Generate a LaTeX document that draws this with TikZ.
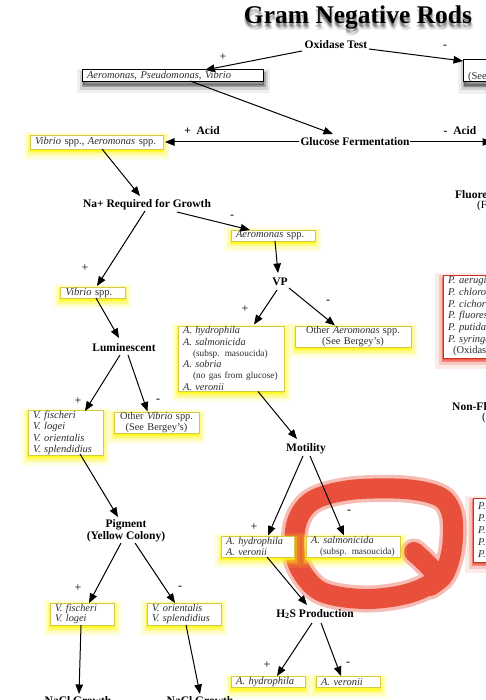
\documentclass[tikz,border=0pt]{standalone}
\usepackage{fontspec}
\setmainfont{Liberation Serif}
\usetikzlibrary{arrows.meta,calc}
\definecolor{yline}{RGB}{212,202,70}
\definecolor{yglow}{RGB}{255,248,20}
\definecolor{rline}{RGB}{200,50,35}
\definecolor{rglow}{RGB}{235,60,40}
\definecolor{ringc}{RGB}{230,62,38}
\definecolor{txt}{RGB}{45,45,45}
\newcommand\labfont{\fontsize{11.5}{12.5}\selectfont\bfseries}
\newcommand\boxfont{\fontsize{10.5}{11.5}\selectfont}
\newcommand\smallpar[1]{{\fontsize{9.3}{11.5}\selectfont #1}}
\tikzset{
  lab/.style={font=\labfont, inner sep=0pt, text=black},
  sgn/.style={font=\fontsize{12}{12}\selectfont, inner sep=0pt},
  titlefont/.style={font=\fontsize{25.5}{28}\selectfont\bfseries, inner sep=0pt},
  arr/.style={line width=1pt, -{Triangle[length=9.5pt,width=7.5pt]}},
  boxbase/.style={fill=white, line width=0.8pt, inner xsep=5pt, inner ysep=0pt, align=left, font=\boxfont, text=txt},
  ybox/.style={boxbase, draw=yline,
    preaction={fill=yglow, draw=yglow, line width=14pt, opacity=0.10, transform canvas={yshift=-4pt}},
    preaction={fill=yglow, draw=yglow, line width=9pt, opacity=0.18, transform canvas={yshift=-3.5pt}},
    preaction={fill=yglow, draw=yglow, line width=5pt, opacity=0.3, transform canvas={yshift=-3pt}},
    preaction={fill=yglow, draw=yglow, line width=2pt, opacity=0.45, transform canvas={yshift=-2pt}}},
  rbox/.style={boxbase, draw=rline,
    preaction={fill=rglow, draw=rglow, line width=13pt, opacity=0.10, transform canvas={xshift=-2pt,yshift=-4pt}},
    preaction={fill=rglow, draw=rglow, line width=7pt, opacity=0.2, transform canvas={xshift=-1pt,yshift=-3pt}},
    preaction={fill=rglow, draw=rglow, line width=3pt, opacity=0.4, transform canvas={yshift=-2pt}}},
  kbox/.style={boxbase, draw=black, line width=1pt,
    preaction={fill=black, draw=black, line width=12pt, opacity=0.06, transform canvas={xshift=1pt,yshift=-6pt}},
    preaction={fill=black, draw=black, line width=7pt, opacity=0.12, transform canvas={xshift=1pt,yshift=-5pt}},
    preaction={fill=black, draw=black, line width=3pt, opacity=0.2, transform canvas={xshift=1pt,yshift=-4pt}}},
}
\begin{document}
\begin{tikzpicture}[x=1pt,y=-1pt]
\useasboundingbox (0,0) rectangle (486,700);
\clip (0,0) rectangle (486,700);
\fill[white] (0,0) rectangle (486,700);

% hand-drawn red ring (annotation)
\draw[ringc, line width=27pt, opacity=0.35, line cap=round, line join=round]
  plot[smooth, tension=0.55] coordinates {(414,552) (436,577) (410,593) (365,599) (320,591) (297,562) (296,525) (312,501) (350,490) (405,489) (440,497) (452,515) (452,548) (444,574) (430,586)};
\draw[ringc, line width=20pt, opacity=0.85, line cap=round, line join=round]
  plot[smooth, tension=0.55] coordinates {(414,552) (436,577) (410,593) (365,599) (320,591) (297,562) (296,525) (312,501) (350,490) (405,489) (440,497) (452,515) (452,548) (444,574) (430,586)};

% title with shadow
\foreach \dx/\dy/\o [count=\i] in {0/3/0.22, 1/5/0.14, -1/4/0.14, 0/7/0.08, 2/6/0.08}
  \node[titlefont, text=black, opacity=\o] (tshadow\i) at (358+\dx,17+\dy) {Gram Negative Rods};
\node[titlefont] (title) at (358,17) {Gram Negative Rods};

% labels
\node[lab] (ox) at (336,45) {Oxidase Test};
\node[lab] (gl) at (355,142) {Glucose Fermentation};
\node[lab] (na) at (147,205) {Na+ Required for Growth};
\node[lab] (vp) at (280,282) {VP};
\node[lab] (lum) at (124,348) {Luminescent};
\node[lab] (mot) at (306,449) {Motility};
\node[lab, align=center, font=\fontsize{11.5}{12}\selectfont\bfseries] (pig) at (126,531) {Pigment\\(Yellow Colony)};
\node[lab] (h2s) at (315,614) {H\textsubscript{2}S Production};
\node[lab, anchor=west] (fl) at (455,195) {Fluorescent};
\node[font=\fontsize{11}{12}\selectfont, inner sep=0pt, anchor=west] (fl2) at (477,206) {(Fluorescein)};
\node[lab, anchor=west] (nf) at (452,407) {Non-Fluorescent};
\node[font=\fontsize{11}{12}\selectfont, inner sep=0pt, anchor=west] (nf2) at (482,418) {(Oxidase +)};
\node[lab] (bl1) at (78,701) {NaCl Growth};
\node[lab] (bl2) at (200,701) {NaCl Growth};

% boxes
\node[kbox, text width=171pt, minimum height=12pt] (b1) at (172.5,75.5) {\textit{Aeromonas, Pseudomonas, Vibrio}};
\node[kbox, text width=64pt, minimum height=22pt] (rbx) at (500,71) {\strut\\(See Bergey's)};
\node[ybox, text width=123pt, minimum height=14pt] (b2) at (96.5,142) {\textit{Vibrio} spp., \textit{Aeromonas} spp.};
\node[ybox, text width=74pt, minimum height=11pt] (b3) at (273,235.5) {\textit{Aeromonas} spp.};
\node[ybox, text width=54pt, minimum height=11pt, inner xsep=5.5pt] (b4) at (92.5,292.5) {\textit{Vibrio} spp.};
\node[ybox, text width=96pt, minimum height=65pt, font=\fontsize{10.3}{11.3}\selectfont] (b5) at (231,358.5) {\textit{A. hydrophila}\\\textit{A. salmonicida}\\\hspace*{10pt}\smallpar{(subsp. masoucida)}\\\textit{A. sobria}\\\hspace*{10pt}\smallpar{(no gas from glucose)}\\\textit{A. veronii}};
\node[ybox, text width=106pt, minimum height=21pt, align=center, font=\fontsize{10.3}{10.8}\selectfont] (b6) at (353,336.5) {Other \textit{Aeromonas} spp.\\(See Bergey's)};
\node[rbox, text width=100pt, minimum height=83pt, font=\fontsize{10.5}{11.7}\selectfont] (b7) at (498,316.5) {\textit{P. aeruginosa}\\\textit{P. chlororaphis}\\\textit{P. cichorii}\\\textit{P. fluorescens}\\\textit{P. putida}\\\textit{P. syringae}\\\hspace*{5pt}(Oxidase +)};
\node[ybox, text width=65pt, minimum height=42pt, font=\fontsize{10.5}{11.6}\selectfont] (b8) at (65.5,433) {\textit{V. fischeri}\\\textit{V. logei}\\\textit{V. orientalis}\\\textit{V. splendidius}};
\node[ybox, text width=75pt, minimum height=21pt, align=center, font=\fontsize{10.3}{10.8}\selectfont] (b9) at (156.5,422.5) {Other \textit{Vibrio} spp.\\(See Bergey's)};
\node[ybox, text width=63pt, minimum height=21pt, font=\fontsize{10.3}{10.8}\selectfont] (b10) at (257.5,546.5) {\textit{A. hydrophila}\\\textit{A. veronii}};
\node[ybox, text width=84pt, minimum height=21pt, font=\fontsize{10.3}{10.8}\selectfont] (b11) at (353,546.5) {\textit{A. salmonicida}\\\hspace*{9pt}\smallpar{(subsp. masoucida)}};
\node[rbox, text width=100pt, minimum height=64pt, font=\fontsize{10.5}{11.8}\selectfont] (b12) at (528,530) {\textit{P. stutzeri}\\\textit{P. mendocina}\\\textit{P. alcaligenes}\\\textit{P. pseudoalcaligenes}\\\textit{P. diminuta}};
\node[ybox, text width=54pt, minimum height=22pt, font=\fontsize{10.3}{10.8}\selectfont] (b13) at (82,614) {\textit{V. fischeri}\\\textit{V. logei}};
\node[ybox, text width=64pt, minimum height=22pt, font=\fontsize{10.3}{10.8}\selectfont] (b14) at (184,614) {\textit{V. orientalis}\\\textit{V. splendidius}};
\node[ybox, text width=64pt, minimum height=11pt] (b15) at (268,682) {\textit{A. hydrophila}};
\node[ybox, text width=54pt, minimum height=11pt] (b16) at (348,682) {\textit{A. veronii}};

\coordinate (glend) at (492,142);

% connectors
\draw[arr] ($(ox)+(-34,6)$) -- ($(b1)+(32.5,-5.5)$);
\draw[arr] ($(ox)+(33,4)$) -- ($(rbx)+(-37,-10)$);
\draw[arr] ($(b1)+(17.5,5.5)$) -- ($(gl)+(-22,-8)$);
\draw[arr] ($(gl)+(-56,0)$) -- ($(b2)+(68.5,0)$);
\draw[arr] ($(gl)+(55,0)$) -- (glend);
\draw[arr] ($(b2)+(5.5,7)$) -- ($(na)+(-7,-9)$);
\draw[arr] ($(na)+(30,7)$) -- ($(b3)+(-23,-5.5)$);
\draw[arr] ($(na)+(-2,6)$) -- ($(b4)+(4.5,-6.5)$);
\draw[arr] ($(b3)+(2,5.5)$) -- ($(vp)+(-2,-9)$);
\draw[arr] ($(b4)+(3.5,5.5)$) -- ($(lum)+(-5,-10)$);
\draw[arr] ($(lum)+(-4,7)$) -- ($(b8)+(19.5,-22)$);
\draw[arr] ($(lum)+(4,7)$) -- ($(b9)+(-9,-11)$);
\draw[arr] ($(vp)+(-3,8)$) -- ($(b5)+(23,-34)$);
\draw[arr] ($(vp)+(9,6)$) -- ($(b6)+(-18,-11)$);
\draw[arr] ($(b5)+(27,33)$) -- ($(mot)+(-9,-10)$);
\draw[arr] ($(b8)+(14.5,21)$) -- ($(pig)+(-8,-14)$);
\draw[arr] ($(mot)+(-3,7)$) -- ($(b10)+(10.5,-11)$);
\draw[arr] ($(mot)+(4,7)$) -- ($(b11)+(-9,-11)$);
\draw[arr] ($(pig)+(-5,12)$) -- ($(b13)+(7,-11)$);
\draw[arr] ($(pig)+(9,12)$) -- ($(b14)+(-9,-11)$);
\draw[arr] ($(b10)+(9.5,10.5)$) -- ($(h2s)+(-8,-9)$);
\draw[arr] ($(h2s)+(-3,9)$) -- ($(b15)+(9,-6)$);
\draw[arr] ($(h2s)+(6,9)$) -- ($(b16)+(-7,-6)$);
\draw[arr] ($(b13)+(-1,11)$) -- ($(bl1)+(1,-7)$);
\draw[arr] ($(b14)+(2,11)$) -- ($(bl2)+(0,-7)$);

% signs
\node[sgn] (s1) at (223,57) {+};
\node[sgn] (s2) at (445,47) {-};
\node[lab] (s3) at (202,131) {+ \ Acid};
\node[lab] (s4) at (460,131) {- \ Acid};
\node[sgn] (s5) at (232,217) {-};
\node[sgn] (s6) at (85,268) {+};
\node[sgn] (s7) at (78,401) {+};
\node[sgn] (s8) at (158,401) {-};
\node[sgn] (s9) at (245,309) {+};
\node[sgn] (s10) at (328,302) {-};
\node[sgn] (s11) at (254,527) {+};
\node[sgn] (s12) at (349,512) {-};
\node[sgn] (s13) at (78,588) {+};
\node[sgn] (s14) at (180,588) {-};
\node[sgn] (s15) at (267,665) {+};
\node[sgn] (s16) at (348,664) {-};
\end{tikzpicture}
\end{document}
